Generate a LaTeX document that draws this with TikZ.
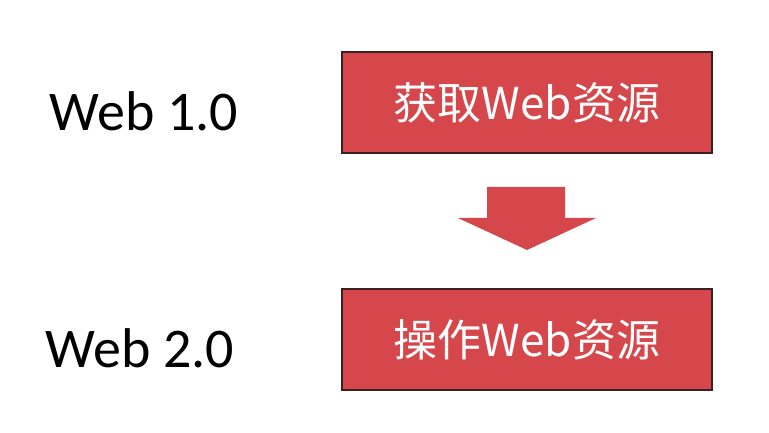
\documentclass[tikz,border=0pt]{standalone}
\usepackage{fontspec}
\setmainfont{Carlito}
\newfontfamily\cjk{Noto Sans CJK SC}
\definecolor{boxred}{HTML}{D6474B}
\definecolor{boxedge}{HTML}{3A2020}
\begin{document}
\begin{tikzpicture}[x=1pt,y=-1pt,
  redbox/.style={draw=boxedge,line width=1.5pt,fill=boxred,minimum width=370pt,minimum height=101pt,inner sep=0pt,text=white,font=\cjk\fontsize{44}{50}\selectfont},
  verlabel/.style={font=\fontsize{56}{60}\selectfont,text=black}]
\useasboundingbox (0,0) rectangle (769,433);
\node[redbox] (b1) at (527,102.5) {获取Web资源};
\node[redbox] (b2) at (527,339.5) {操作Web资源};
\node[verlabel] (l1) at (144,111) {Web 1.0};
\node[verlabel] (l2) at (140,348) {Web 2.0};
\fill[boxred] (487,187) -- (565,187) -- (565,218) -- (596,218) -- (527,250) -- (458,218) -- (487,218) -- cycle;
\end{tikzpicture}
\end{document}
